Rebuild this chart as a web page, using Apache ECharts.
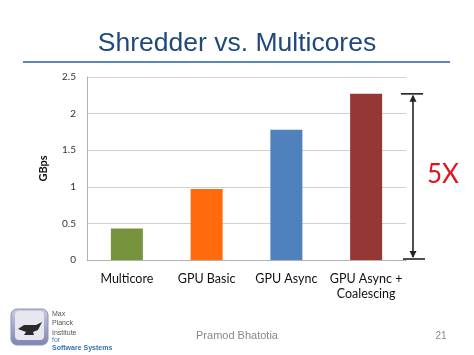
<!DOCTYPE html>
<html><head><meta charset="utf-8">
<script src="https://cdn.jsdelivr.net/npm/echarts@6/dist/echarts.min.js"></script>
<style>html,body{margin:0;padding:0;background:#fff}#c{width:474px;height:355px}</style>
</head><body><div id="c"></div>
<script>
const categories = ['Multicore', 'GPU Basic', 'GPU Async', 'GPU Async +\nCoalescing'];
const values = [0.43, 0.97, 1.78, 2.27];
const barColors = ['#77933C', '#FF6A0D', '#4F81BD', '#953735'];
const yTicks = [0, 0.5, 1, 1.5, 2, 2.5];
const titleText = 'Shredder vs. Multicores';
const yName = 'GBps';
const speedupText = '5X';

const chart = echarts.init(document.getElementById('c'), null, {renderer: 'canvas'});
const font = 'Lato, "Open Sans", sans-serif';
chart.setOption({
  animation: false,
  backgroundColor: '#fff',
  title: {
    text: titleText, left: 'center', top: 25,
    textStyle: {fontFamily: 'Liberation Sans, Arial, sans-serif', fontSize: 26.5, fontWeight: 'normal', color: '#1F497D'}
  },
  grid: {left: 87, right: 68, top: 77, bottom: 95, containLabel: false},
  xAxis: {
    type: 'category', data: categories,
    axisLine: {lineStyle: {color: '#B0B0B0', width: 1}},
    axisTick: {show: false},
    axisLabel: {fontFamily: font, fontSize: 12.5, color: '#111', margin: 11, lineHeight: 15, interval: 0}
  },
  yAxis: {
    type: 'value', min: yTicks[0], max: yTicks[yTicks.length - 1], interval: 0.5,
    name: yName, nameLocation: 'middle', nameGap: 38, nameRotate: 90,
    nameTextStyle: {fontFamily: font, fontSize: 11, fontWeight: 'bold', color: '#111'},
    axisLine: {show: true, lineStyle: {color: '#B0B0B0'}},
    axisTick: {show: false},
    axisLabel: {fontFamily: font, fontSize: 10, color: '#333', margin: 11},
    splitLine: {lineStyle: {color: '#D0D0D0', width: 1}}
  },
  series: [{
    type: 'bar', barWidth: 32,
    data: values.map((v, i) => ({value: v, itemStyle: {color: barColors[i]}}))
  }]
});

function drawExtras() {
  const top = chart.convertToPixel({gridIndex: 0}, [categories.length - 1, values[values.length - 1]]);
  const bot = chart.convertToPixel({gridIndex: 0}, [categories.length - 1, 0]);
  const gridRight = 474 - 68;
  const ax = gridRight + 7;
  const y1 = top[1], y2 = bot[1] - 1;
  chart.setOption({
    graphic: [
      {type: 'line', shape: {x1: 23, y1: 62, x2: 450, y2: 62}, style: {stroke: '#5B87B8', lineWidth: 2}},
      {type: 'line', shape: {x1: ax, y1: y1 + 2, x2: ax, y2: y2 - 2}, style: {stroke: '#222', lineWidth: 1.6}},
      {type: 'line', shape: {x1: ax - 12, y1: y1, x2: ax + 10, y2: y1}, style: {stroke: '#222', lineWidth: 1.6}},
      {type: 'line', shape: {x1: ax - 10, y1: y2, x2: ax + 12, y2: y2}, style: {stroke: '#222', lineWidth: 1.6}},
      {type: 'polygon', shape: {points: [[ax, y1 + 1], [ax - 3.5, y1 + 8], [ax + 3.5, y1 + 8]]}, style: {fill: '#222'}},
      {type: 'polygon', shape: {points: [[ax, y2 - 1], [ax - 3.5, y2 - 8], [ax + 3.5, y2 - 8]]}, style: {fill: '#222'}},
      {type: 'text', x: ax + 14, y: (y1 + y2) / 2 - 2, style: {text: speedupText, fill: '#E0141E', fontFamily: font, fontSize: 26, textVerticalAlign: 'middle'}},
      // logo
      {type: 'rect', shape: {x: 11, y: 309, width: 37, height: 36, r: 6},
        style: {fill: new echarts.graphic.LinearGradient(0, 0, 0, 1, [{offset: 0, color: '#C9CBE0'}, {offset: 1, color: '#7F83B8'}]), stroke: '#8D90B8'}},
      {type: 'rect', shape: {x: 15, y: 311, width: 29, height: 29, r: 4}, style: {fill: '#E6E7EF'}},
      {type: 'polygon', shape: {points: [[18, 329], [24, 325], [36, 325], [42, 322], [38, 330], [33, 332], [34, 335], [24, 335], [26, 332]]}, style: {fill: '#2A2A2A'}},
      {type: 'text', x: 52, y: 309, style: {text: 'Max\nPlanck\nInstitute', fill: '#555', fontFamily: 'Liberation Sans, sans-serif', fontSize: 7, lineHeight: 9.5}},
      {type: 'text', x: 52, y: 337, style: {text: 'for', fill: '#4A7FB5', fontFamily: 'Liberation Sans, sans-serif', fontSize: 7}},
      {type: 'text', x: 52, y: 345, style: {text: 'Software Systems', fill: '#3A73B0', fontFamily: 'Liberation Sans, sans-serif', fontSize: 7, fontWeight: 'bold'}},
      {type: 'text', x: 237, y: 336, style: {text: 'Pramod Bhatotia', fill: '#888', fontFamily: 'Liberation Sans, sans-serif', fontSize: 11, textAlign: 'center', textVerticalAlign: 'middle'}},
      {type: 'text', x: 441, y: 336, style: {text: '21', fill: '#888', fontFamily: 'Liberation Sans, sans-serif', fontSize: 10, textAlign: 'center', textVerticalAlign: 'middle'}}
    ]
  });
}
drawExtras();
</script>
</body></html>
